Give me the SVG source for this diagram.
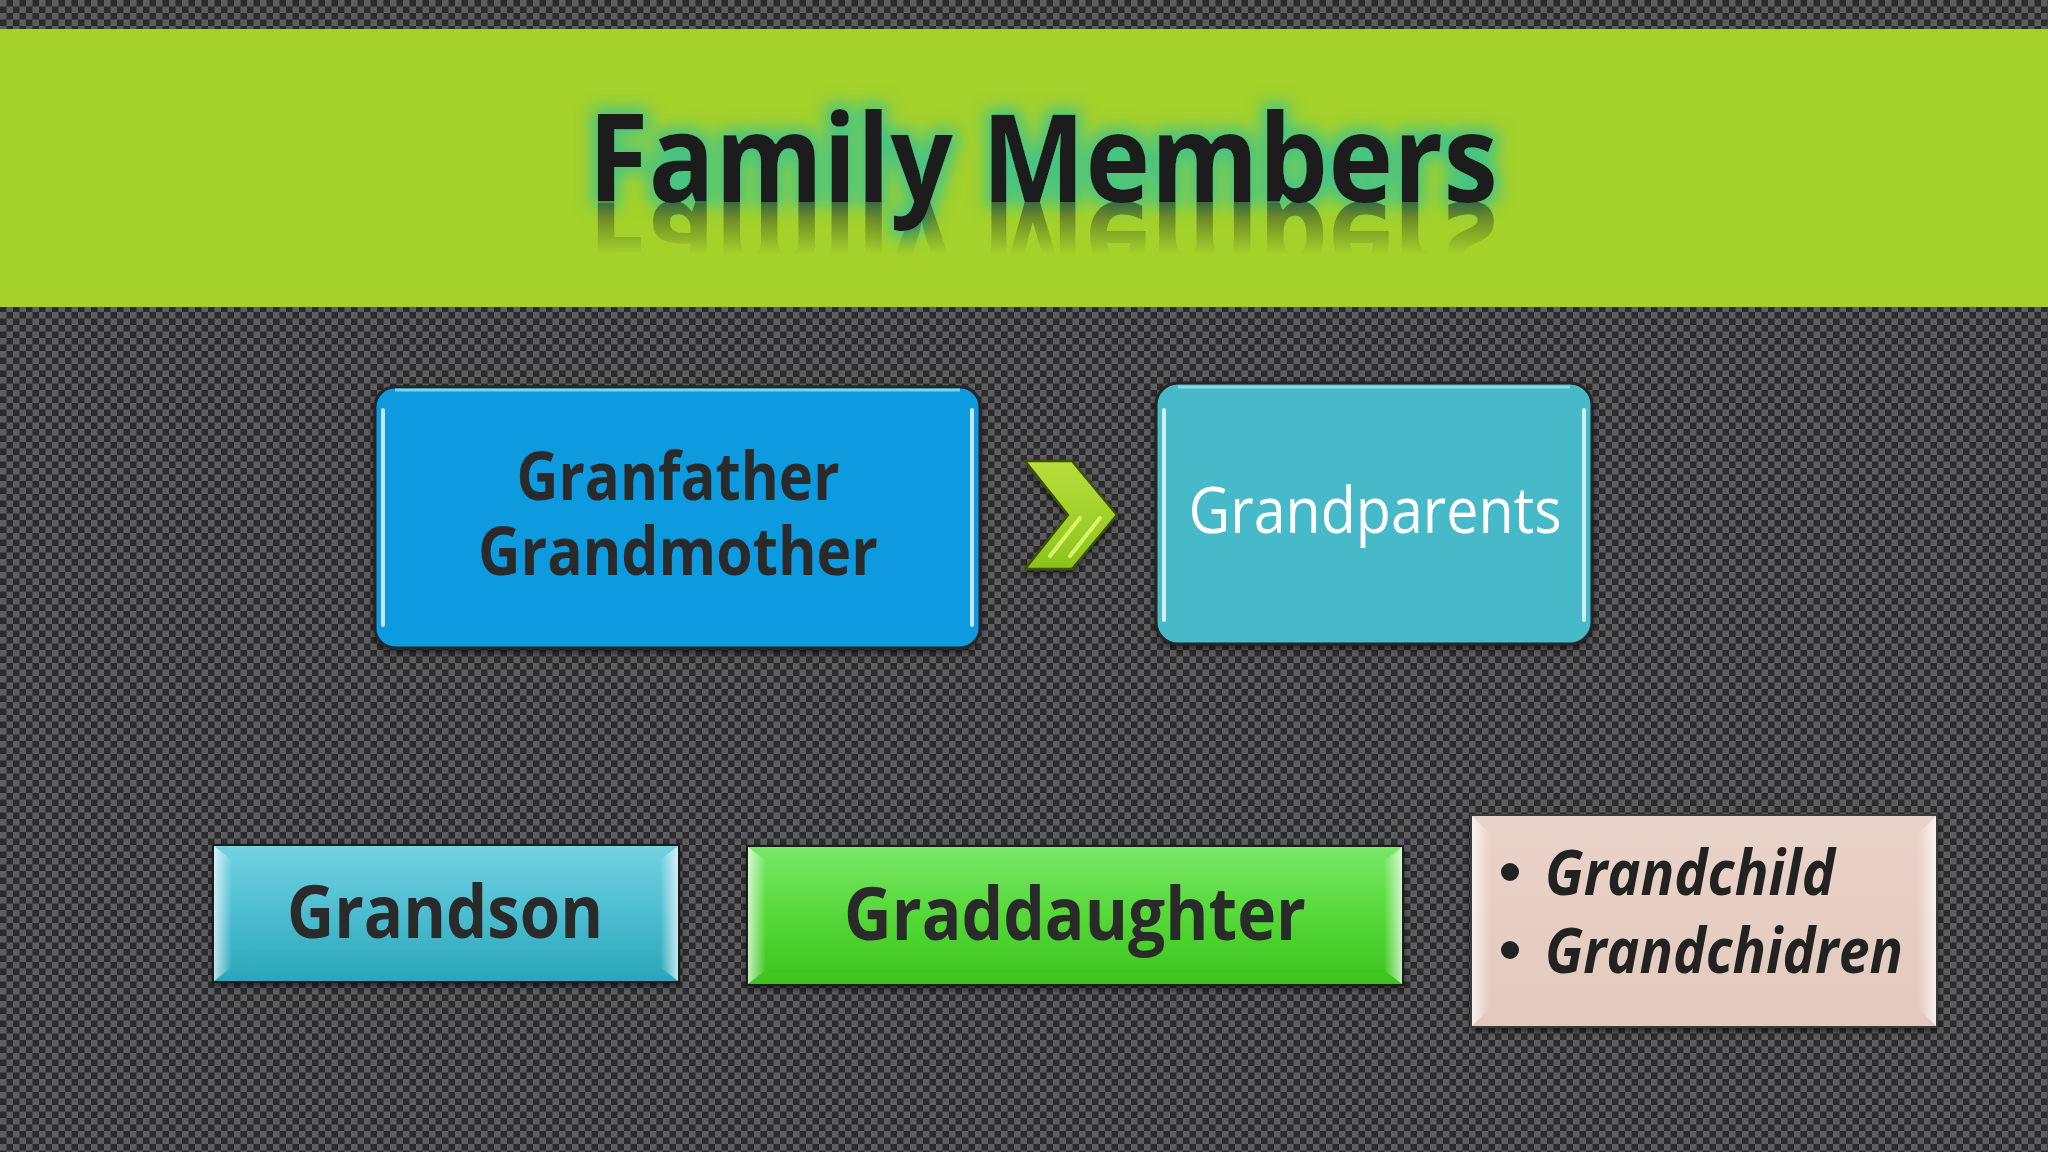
<svg xmlns="http://www.w3.org/2000/svg" width="2048" height="1152" viewBox="0 0 2048 1152">
  <defs>
    <pattern id="checker" x="0" y="0" width="13" height="13" patternUnits="userSpaceOnUse">
      <rect width="13" height="13" fill="#2b2b2d"/>
      <rect x="0" y="0" width="6.5" height="6.5" fill="#5e5e61"/>
      <rect x="6.5" y="6.5" width="6.5" height="6.5" fill="#5e5e61"/>
    </pattern>
    <filter id="glow" x="-10%" y="-40%" width="120%" height="180%">
      <feMorphology in="SourceAlpha" operator="dilate" radius="6" result="d"/>
      <feGaussianBlur in="d" stdDeviation="8" result="b"/>
      <feFlood flood-color="#3fc38a" flood-opacity="0.9"/>
      <feComposite in2="b" operator="in" result="g"/>
      <feMerge><feMergeNode in="g"/><feMergeNode in="SourceGraphic"/></feMerge>
    </filter>
    <filter id="shadow" x="-5%" y="-5%" width="110%" height="115%">
      <feGaussianBlur in="SourceAlpha" stdDeviation="3"/>
      <feOffset dy="3" result="o"/>
      <feFlood flood-color="#000" flood-opacity="0.6"/>
      <feComposite in2="o" operator="in"/>
      <feMerge><feMergeNode/><feMergeNode in="SourceGraphic"/></feMerge>
    </filter>
    <linearGradient id="reflFade" x1="0" y1="0" x2="0" y2="1">
      <stop offset="0" stop-color="#fff" stop-opacity="0.55"/>
      <stop offset="1" stop-color="#fff" stop-opacity="0"/>
    </linearGradient>
    <mask id="reflMask" maskUnits="userSpaceOnUse" x="0" y="200" width="2048" height="60">
      <rect x="0" y="202" width="2048" height="52" fill="url(#reflFade)"/>
    </mask>
    <linearGradient id="gSon" x1="0" y1="0" x2="0" y2="1">
      <stop offset="0" stop-color="#74d2e2"/>
      <stop offset="0.5" stop-color="#4cbdd0"/>
      <stop offset="1" stop-color="#2aa6ba"/>
    </linearGradient>
    <linearGradient id="gDau" x1="0" y1="0" x2="0" y2="1">
      <stop offset="0" stop-color="#7ae86a"/>
      <stop offset="0.5" stop-color="#55d838"/>
      <stop offset="1" stop-color="#3cc41e"/>
    </linearGradient>
    <linearGradient id="gChild" x1="0" y1="0" x2="0" y2="1">
      <stop offset="0" stop-color="#ead3c9"/>
      <stop offset="1" stop-color="#e3c9bd"/>
    </linearGradient>
    <linearGradient id="gChev" x1="0" y1="0" x2="0" y2="1">
      <stop offset="0" stop-color="#b8de3c"/>
      <stop offset="0.5" stop-color="#a2d22a"/>
      <stop offset="1" stop-color="#8cc21c"/>
    </linearGradient>
    <linearGradient id="sheenL" x1="0" y1="0" x2="1" y2="0">
      <stop offset="0" stop-color="#fff" stop-opacity="0.7"/>
      <stop offset="1" stop-color="#fff" stop-opacity="0"/>
    </linearGradient>
    <linearGradient id="sheenR" x1="1" y1="0" x2="0" y2="0">
      <stop offset="0" stop-color="#fff" stop-opacity="0.7"/>
      <stop offset="1" stop-color="#fff" stop-opacity="0"/>
    </linearGradient>
    <style>
      .title { font-family: "Open Sans", "Liberation Sans", sans-serif; font-weight: 700; font-size: 122px; fill: #1c1c1c; }
      .dark { font-family: "Open Sans", "Liberation Sans", sans-serif; font-weight: 700; fill: #2b2b2b; text-anchor: middle; }
      .light { font-family: "Open Sans", "Liberation Sans", sans-serif; font-weight: 400; fill: #ffffff; text-anchor: middle; }
      .ital { font-family: "Open Sans", "Liberation Sans", sans-serif; font-weight: 700; font-style: italic; fill: #222222; font-size: 62px; }
      .hl { fill: none; stroke: #ffffff; stroke-opacity: 0.75; stroke-width: 4; stroke-linecap: round; }
    </style>
  </defs>

  <!-- background -->
  <rect width="2048" height="1152" fill="url(#checker)"/>
  <rect x="0" y="29" width="2048" height="278" fill="#a4d12a"/>

  <!-- title -->
  <g id="title">
    <text id="titleText" class="title" x="1043" y="202" text-anchor="middle" textLength="910" lengthAdjust="spacingAndGlyphs" filter="url(#glow)">Family Members</text>
    <g mask="url(#reflMask)">
      <text class="title" x="1043" y="202" text-anchor="middle" textLength="910" lengthAdjust="spacingAndGlyphs" transform="translate(0,404) scale(1,-1)" fill="#3a5a20">Family Members</text>
    </g>
  </g>

  <!-- Grandfather / Grandmother -->
  <g id="node-grandfather" filter="url(#shadow)">
    <rect x="375" y="387" width="605" height="261" rx="20" fill="#0a9adf" stroke="#262626" stroke-width="3"/>
    <path class="hl" d="M383 410 L383 625" />
    <path class="hl" d="M972 410 L972 625" />
    <path d="M395 390 L960 390" stroke="#7fd0f5" stroke-width="3" fill="none"/>
    <text class="dark" x="678" y="500" font-size="66" textLength="323" lengthAdjust="spacingAndGlyphs">Granfather</text>
    <text class="dark" x="678" y="575" font-size="66" textLength="400" lengthAdjust="spacingAndGlyphs">Grandmother</text>
  </g>

  <!-- connectors -->
  <g id="connectors">
    <g id="chevron" filter="url(#shadow)">
      <path d="M1025 461 L1072 461 L1117 515 L1072 569 L1025 569 L1068 515 Z" fill="url(#gChev)" stroke="#3e5010" stroke-width="2.5" stroke-linejoin="round"/>
      <path d="M1080 518 L1050 556" stroke="#e4ff7a" stroke-width="4" stroke-linecap="round" opacity="0.8"/>
      <path d="M1100 518 L1070 556" stroke="#e4ff7a" stroke-width="4" stroke-linecap="round" opacity="0.8"/>
    </g>
  </g>

  <!-- Grandparents -->
  <g id="node-grandparents" filter="url(#shadow)">
    <rect x="1156" y="383" width="436" height="261" rx="22" fill="#47bac9" stroke="#262626" stroke-width="3"/>
    <path class="hl" d="M1164 410 L1164 620" />
    <path class="hl" d="M1584 410 L1584 620" />
    <path d="M1178 387 L1570 387" stroke="#8fdbe5" stroke-width="3" fill="none"/>
    <text class="light" x="1375" y="533" font-size="64" textLength="373" lengthAdjust="spacingAndGlyphs">Grandparents</text>
  </g>

  <!-- Grandson -->
  <g id="node-grandson" filter="url(#shadow)">
    <rect x="213" y="845" width="466" height="137" fill="url(#gSon)" stroke="#1e1e1e" stroke-width="2"/>
    <polygon points="214,846 232,860 232,967 214,981" fill="url(#sheenL)"/>
    <polygon points="678,846 660,860 660,967 678,981" fill="url(#sheenR)"/>
    <text class="dark" x="445" y="938" font-size="73" textLength="316" lengthAdjust="spacingAndGlyphs">Grandson</text>
  </g>

  <!-- Graddaughter -->
  <g id="node-graddaughter" filter="url(#shadow)">
    <rect x="747" y="846" width="656" height="139" fill="url(#gDau)" stroke="#1e1e1e" stroke-width="2"/>
    <polygon points="748,847 766,861 766,970 748,984" fill="url(#sheenL)"/>
    <polygon points="1402,847 1384,861 1384,970 1402,984" fill="url(#sheenR)"/>
    <text class="dark" x="1075" y="940" font-size="73" textLength="462" lengthAdjust="spacingAndGlyphs">Graddaughter</text>
  </g>

  <!-- Grandchild list -->
  <g id="node-grandchild" filter="url(#shadow)">
    <rect x="1471" y="815" width="466" height="212" fill="url(#gChild)" stroke="#3a3a3a" stroke-width="2"/>
    <polygon points="1472,816 1490,834 1490,1008 1472,1026" fill="url(#sheenL)"/>
    <polygon points="1936,816 1918,834 1918,1008 1936,1026" fill="url(#sheenR)"/>
    <circle cx="1510" cy="872" r="9" fill="#222"/>
    <circle cx="1510" cy="950" r="9" fill="#222"/>
    <text class="ital" x="1545" y="895" textLength="290" lengthAdjust="spacingAndGlyphs">Grandchild</text>
    <text class="ital" x="1545" y="973" textLength="358" lengthAdjust="spacingAndGlyphs">Grandchidren</text>
  </g>
</svg>
